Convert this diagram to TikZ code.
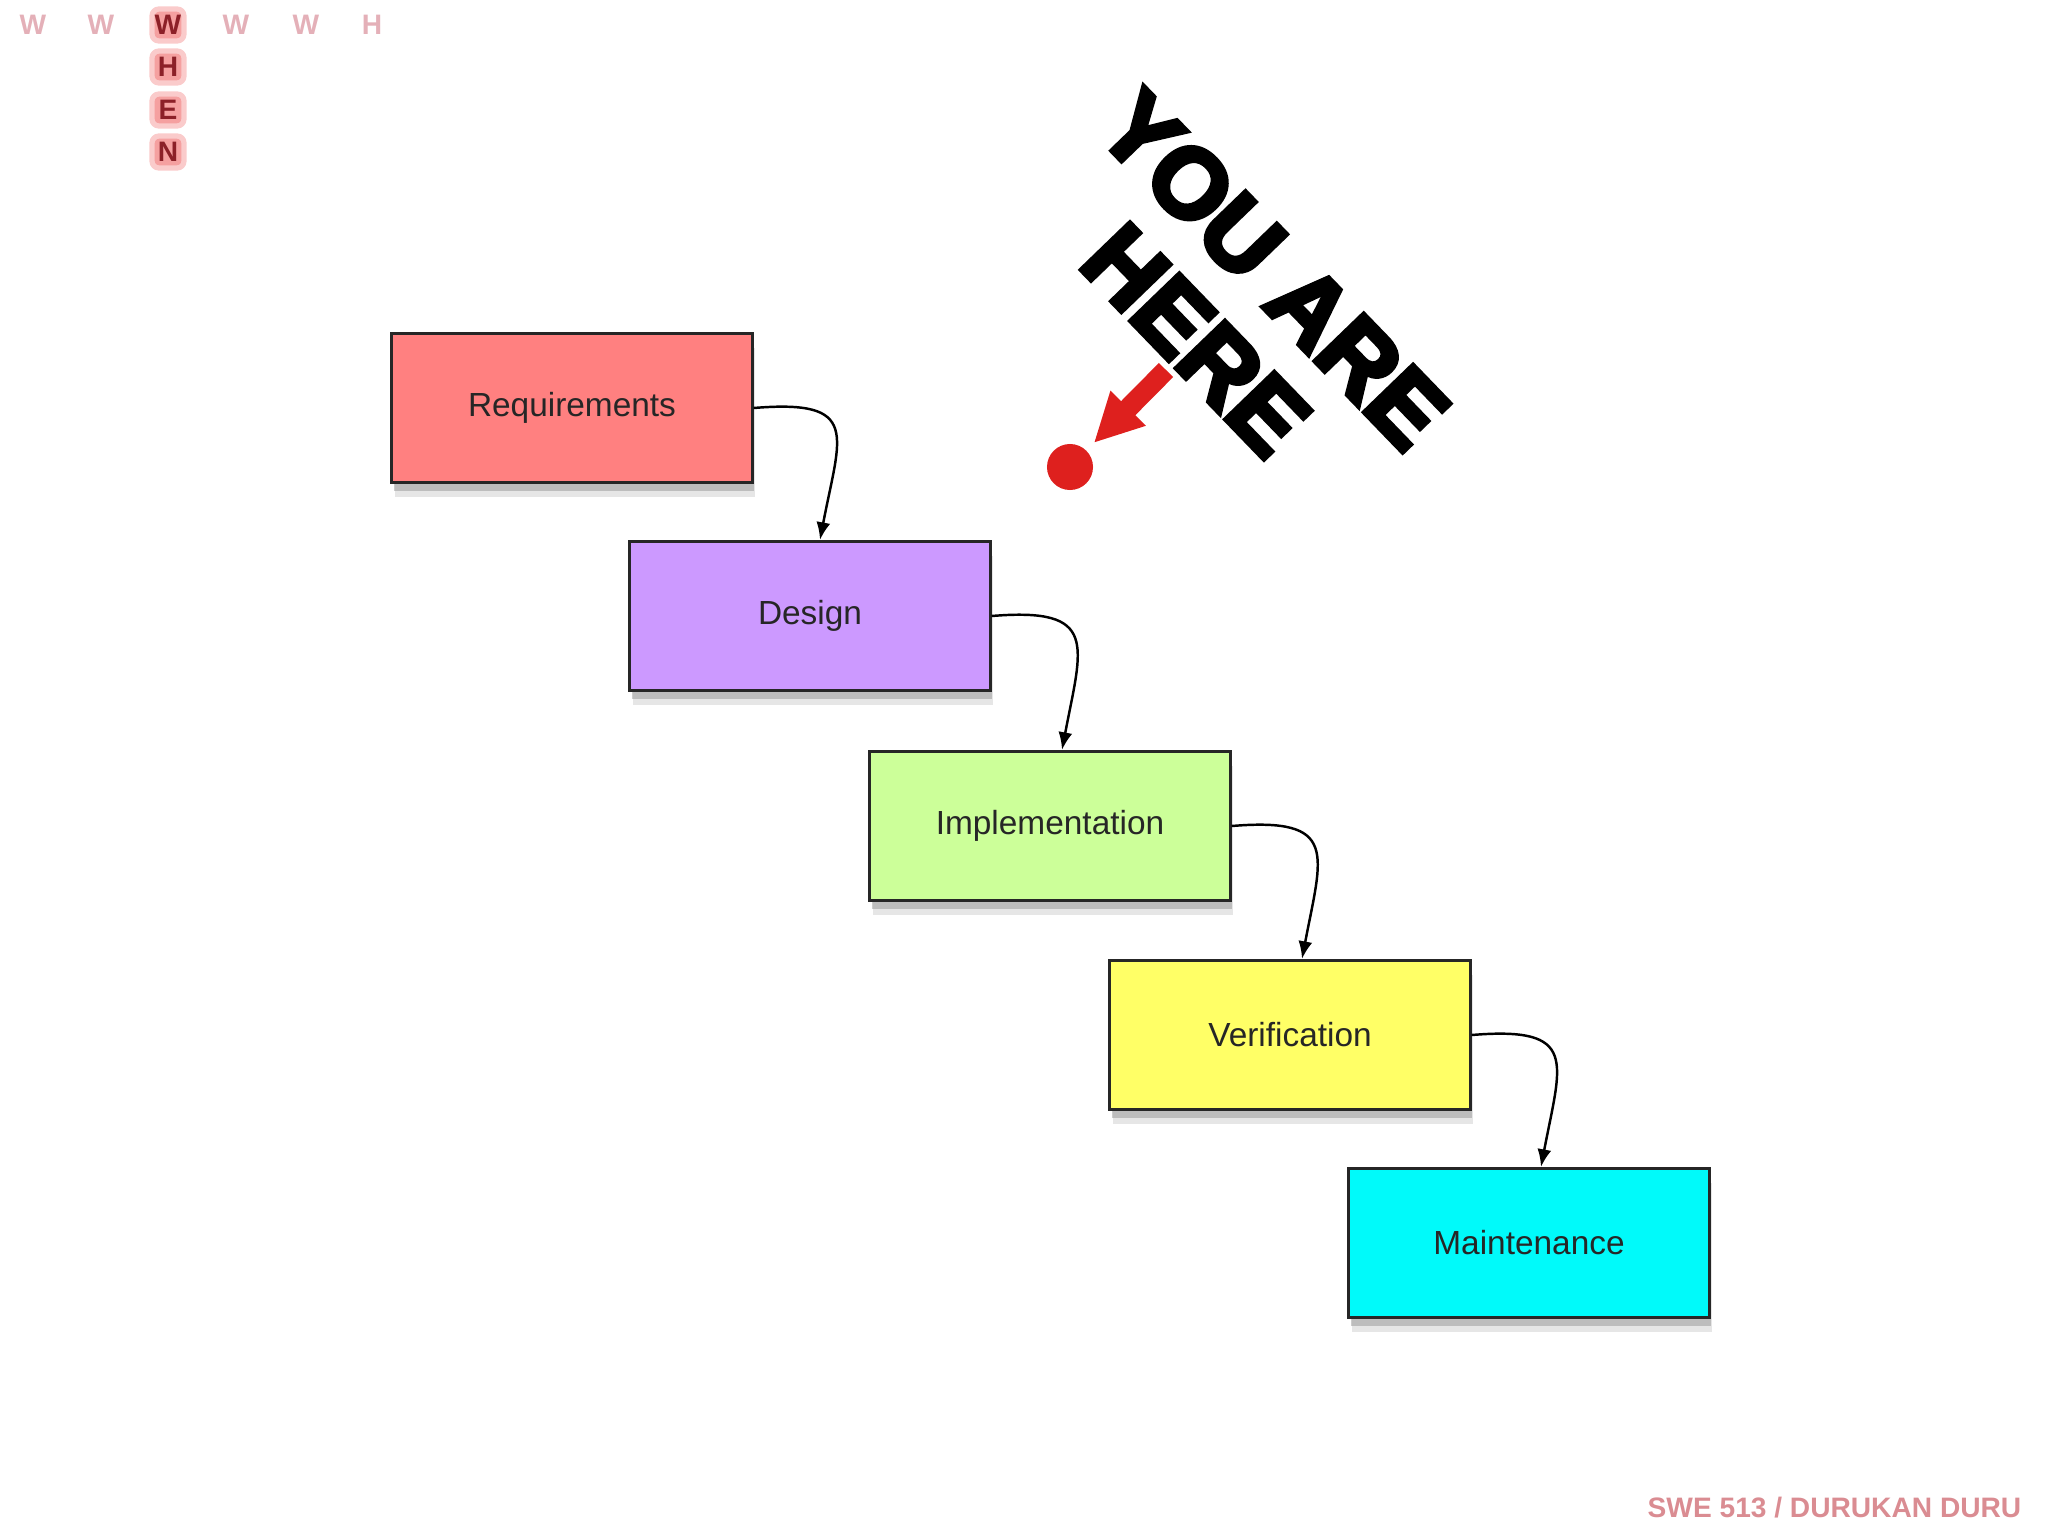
\documentclass[tikz,border=0pt]{standalone}
\usepackage{fontspec}
\setmainfont{Liberation Sans}
\newfontfamily\heavyfont[BoldFeatures={FakeBold=5}]{Liberation Sans}
\usetikzlibrary{shadows,arrows.meta}

\definecolor{reqcol}{RGB}{255,128,128}
\definecolor{descol}{RGB}{204,153,255}
\definecolor{impcol}{RGB}{204,255,153}
\definecolor{vercol}{RGB}{255,255,102}
\definecolor{maicol}{RGB}{0,250,250}
\definecolor{fadedcol}{RGB}{228,176,184}
\definecolor{whencol}{RGB}{140,32,40}
\definecolor{glowcol}{RGB}{245,160,160}
\definecolor{footcol}{RGB}{218,140,146}
\definecolor{herered}{RGB}{222,32,30}

\tikzstyle{phase}=[rectangle,draw=black!85,line width=0.9pt,minimum width=3.6cm,minimum height=1.49cm,font=\fontsize{9.5}{11}\selectfont,text=black!85,drop shadow={shadow xshift=0.8pt,shadow yshift=-4pt,opacity=0.2},drop shadow={shadow xshift=0.5pt,shadow yshift=-2.5pt,opacity=0.4}]
\tikzstyle{flow}=[-{Latex[length=5pt,width=4pt]},line width=0.7pt]
\tikzstyle{faded}=[font=\fontsize{8}{9}\selectfont\bfseries,text=fadedcol,inner sep=0pt]
\tikzstyle{lit}=[faded,text=whencol,fill=glowcol,draw=glowcol!55,line width=1.5pt,rounded corners=2pt,minimum size=0.32cm]
\tikzstyle{bigword}=[rotate=-46,inner sep=0pt,font=\heavyfont\bfseries\fontsize{28}{30}\selectfont]

\begin{document}
\begin{tikzpicture}[x=0.01cm,y=-0.01cm]
\useasboundingbox (0,0) rectangle (2048,1536);
\node (w1) at (33,25) [faded] {W};
\node (w2) at (101,25) [faded] {W};
\node (w3) at (168,25) [lit] {W};
\node (w4) at (236,25) [faded] {W};
\node (w5) at (306,25) [faded] {W};
\node (h6) at (372,25) [faded] {H};
\node (h3) at (168,67) [lit] {H};
\node (e3) at (168,110) [lit] {E};
\node (n3) at (168,152) [lit] {N};

\node (req) at (572,408) [phase,fill=reqcol] {Requirements};
\node (des) at (810,616) [phase,fill=descol] {Design};
\node (imp) at (1050,826) [phase,fill=impcol] {Implementation};
\node (ver) at (1290,1035) [phase,fill=vercol] {Verification};
\node (mai) at (1529,1243) [phase,fill=maicol] {Maintenance};
\draw[flow] (req.east) .. controls +(108,-9) and +(20,-105) .. ([xshift=0.1cm]des.north);
\draw[flow] (des.east) .. controls +(108,-9) and +(20,-105) .. ([xshift=0.12cm]imp.north);
\draw[flow] (imp.east) .. controls +(108,-9) and +(20,-105) .. ([xshift=0.12cm]ver.north);
\draw[flow] (ver.east) .. controls +(108,-9) and +(20,-105) .. ([xshift=0.12cm]mai.north);

\node (you) at (1274,270) [bigword] {YOU ARE};
\node (here) at (1196,340) [bigword] {HERE};
\node (dot) at (1070,467) [circle,fill=herered,minimum size=0.46cm,inner sep=0pt] {};
\coordinate (tail) at (1166,370);
\draw[herered,line width=0.2cm,-{Triangle[length=0.49cm,width=0.46cm]},shorten >=0.1cm] (tail) -- (dot);

\node (foot) at (2022,1508) [anchor=east,font=\fontsize{8}{9}\selectfont\bfseries,text=footcol,inner sep=0pt] {SWE 513 / DURUKAN DURU};
\end{tikzpicture}
\end{document}
